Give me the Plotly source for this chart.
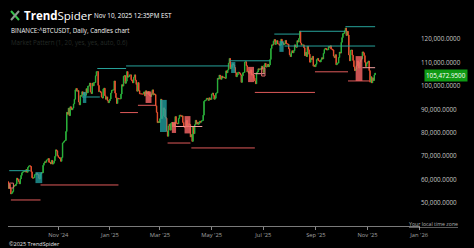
import pandas as pd
import plotly.graph_objects as go

# ---------------- data (daily closes, thousands USD) ----------------
first_open_k = 59.1
sep24 = [56.2, 58.0, 56.2, 53.9, 54.2, 54.9, 57.0, 57.6, 57.4, 58.1, 60.6, 60.0, 59.2, 58.2,
         60.3, 61.8, 62.9, 63.2, 63.4, 63.6, 63.3, 64.3, 63.1, 65.2, 65.8, 65.9, 65.6, 63.3]
oct24 = [60.8, 60.6, 60.8, 62.1, 62.1, 62.8, 62.2, 62.1, 60.6, 60.3, 62.4, 63.0, 62.9, 66.1,
         67.0, 67.6, 67.4, 68.4, 68.4, 69.0, 67.4, 67.4, 66.7, 68.2, 66.6, 67.0, 68.0, 69.9,
         72.7, 72.3, 70.2]
nov24 = [69.5, 69.4, 68.8, 67.8, 69.4, 75.6, 76.0, 76.5, 76.7, 80.5, 88.7, 87.9, 90.5, 87.3,
         91.1, 90.6, 89.8, 90.5, 92.3, 94.3, 98.3, 98.9, 97.7, 98.0, 93.1, 91.9, 95.9, 95.6,
         97.5, 96.4]
dec24 = [97.2, 95.9, 96.0, 98.8, 97.0, 99.9, 99.9, 101.2, 97.4, 96.7, 101.2, 100.0, 101.4,
         101.4, 104.3, 106.1, 106.1, 100.2, 97.5, 97.8, 97.2, 95.2, 94.8, 98.7, 99.0, 95.8,
         94.3, 95.3, 93.7, 92.8, 93.6]
jan25 = [94.4, 96.9, 98.1, 98.2, 98.3, 102.1, 96.9, 95.0, 92.5, 94.7, 94.5, 94.5, 94.5, 96.5,
         100.5, 99.9, 104.1, 104.4, 101.1, 102.0, 106.1, 103.7, 104.0, 104.7, 104.7, 102.6,
         102.1, 101.3, 103.7, 104.7, 102.4]
feb25 = [100.6, 97.7, 101.4, 98.0, 96.6, 96.6, 96.5, 96.5, 96.5, 97.4, 95.7, 97.9, 96.6, 97.5,
         97.6, 96.2, 95.8, 95.5, 96.6, 98.3, 96.1, 96.6, 96.3, 91.5, 88.7, 84.3, 84.7, 84.4]
mar25 = [86.0, 94.3, 86.1, 87.2, 90.6, 89.9, 86.7, 86.2, 80.7, 78.5, 82.9, 83.7, 81.1, 84.0,
         84.3, 82.6, 84.1, 82.7, 86.9, 84.2, 84.0, 83.8, 86.1, 87.5, 87.4, 86.9, 87.2, 84.4,
         82.6, 82.3, 82.5]
apr25 = [85.2, 82.5, 83.1, 83.8, 83.5, 78.2, 79.2, 76.3, 82.6, 79.6, 83.4, 85.3, 83.7, 84.5,
         83.6, 84.0, 84.9, 84.5, 85.1, 85.2, 87.5, 93.4, 93.7, 93.9, 94.7, 94.6, 93.8, 94.9,
         94.3, 94.2]
may25 = [96.5, 96.9, 95.9, 94.3, 94.7, 96.8, 97.0, 103.2, 102.9, 104.6, 104.1, 102.8, 104.2,
         103.5, 103.7, 103.5, 103.2, 106.4, 105.6, 106.8, 109.7, 111.7, 107.3, 107.8, 109.0,
         109.4, 108.9, 107.8, 105.6, 103.9, 104.6]
jun25 = [105.7, 105.8, 105.4, 104.7, 101.5, 104.3, 105.6, 105.7, 110.2, 110.3, 108.6, 105.9,
         106.1, 105.4, 105.6, 106.8, 104.6, 104.9, 104.6, 103.3, 102.1, 100.9, 105.6, 106.0,
         107.3, 106.9, 107.1, 107.3, 108.4, 107.1]
jul25 = [105.7, 108.8, 109.6, 108.0, 108.2, 109.2, 108.2, 108.9, 111.3, 115.9, 117.5, 117.4,
         119.1, 119.8, 117.7, 118.7, 119.3, 117.9, 117.9, 117.3, 117.4, 119.9, 118.8, 118.3,
         117.6, 117.9, 119.4, 118.0, 117.9, 117.8, 115.8]
aug25 = [113.3, 112.5, 114.2, 115.0, 114.1, 115.0, 117.5, 116.6, 116.5, 119.3, 118.7, 120.2,
         123.3, 118.3, 117.4, 117.5, 117.5, 116.3, 112.9, 114.3, 112.5, 116.9, 115.4, 113.5,
         110.1, 111.8, 111.3, 112.6, 108.4, 108.8, 108.2]
sep25 = [109.2, 111.2, 111.7, 110.7, 110.7, 110.2, 111.1, 112.0, 111.5, 113.9, 115.5, 116.0,
         115.9, 115.3, 115.4, 116.8, 116.5, 117.1, 115.7, 115.7, 115.3, 112.7, 112.0, 113.3,
         109.0, 109.7, 109.7, 112.1, 114.4, 114.0]
oct25 = [118.6, 120.6, 122.3, 122.4, 123.5, 124.7, 121.5, 123.3, 121.7, 113.2, 110.7, 115.2,
         115.3, 113.1, 110.8, 108.2, 106.5, 107.2, 108.6, 110.6, 108.5, 107.6, 110.1, 111.0,
         111.6, 114.5, 114.1, 112.9, 110.1, 108.3, 109.6]
nov25 = [110.1, 110.6, 106.5, 101.6, 103.9, 101.3, 103.4, 102.3, 104.7, 105.47295]

last_price = 105472.95

# resistance lines (teal)
res_start = ["2024-09-04", "2024-11-29", "2024-12-17", "2025-01-20", "2025-05-22",
             "2025-07-14", "2025-08-13", "2025-07-26", "2025-10-06"]
res_end = ["2024-09-29", "2024-12-20", "2025-01-20", "2025-05-22", "2025-07-09",
           "2025-08-13", "2025-10-06", "2025-11-10", "2025-11-10"]
res_level = [63800, 95250, 107400, 108500, 110700, 122100, 123300, 117000, 125250]

# support lines (red)
sup_start = ["2024-09-06", "2024-10-11", "2025-01-13", "2025-02-03", "2025-03-10",
             "2025-04-07", "2025-06-21", "2025-08-31", "2025-10-09"]
sup_end = ["2024-10-11", "2025-01-11", "2025-02-03", "2025-02-24", "2025-04-06",
           "2025-06-21", "2025-08-31", "2025-10-09", "2025-11-03"]
sup_level = [51300, 57700, 88600, 91700, 75600, 73500, 97200, 106000, 102100]

# thin mid lines (pink)
mid_start = ["2025-03-18", "2025-06-20", "2025-10-26"]
mid_end = ["2025-04-20", "2025-07-03", "2025-11-10"]
mid_level = [82650, 105200, 107750]

# zones
zone_start = ["2024-10-05", "2024-11-30", "2025-03-01", "2025-05-24", "2025-07-20",
              "2025-02-12", "2025-03-15", "2025-03-30", "2025-06-13", "2025-10-18",
              "2024-09-04", "2025-06-29"]
zone_end = ["2024-10-13", "2024-12-04", "2025-03-09", "2025-05-29", "2025-07-25",
            "2025-02-19", "2025-03-20", "2025-04-06", "2025-06-20", "2025-10-26",
            "2024-09-09", "2025-07-03"]
zone_top = [63200, 97400, 94000, 110200, 119100, 97600, 84600, 87100, 108100, 112700,
            58500, 107600]
zone_bottom = [58500, 92700, 80300, 105500, 114500, 92700, 79900, 79700, 101600, 102100,
               56400, 104200]
zone_kind = ["bull", "bull", "bull", "bull", "bull", "bear", "bear", "bear", "bear", "bear",
             "outline", "outline"]

y_ticks = [50000, 60000, 70000, 80000, 90000, 100000, 110000, 120000]
y_tick_text = ["50,000.0000", "60,000.0000", "70,000.0000", "80,000.0000", "90,000.0000",
               "100,000.0000", "110,000.0000", "120,000.0000"]
x_ticks = ["2024-11-01", "2025-01-01", "2025-03-01", "2025-05-01", "2025-07-01",
           "2025-09-01", "2025-11-01", "2026-01-01"]
x_tick_text = ["Nov '24", "Jan '25", "Mar '25", "May '25", "Jul '25", "Sep '25",
               "Nov '25", "Jan '26"]

# ---------------- build ----------------
closes_k = (sep24 + oct24 + nov24 + dec24 + jan25 + feb25 + mar25 + apr25 + may25 + jun25
            + jul25 + aug25 + sep25 + oct25 + nov25)
dates = pd.date_range("2024-09-03", periods=len(closes_k), freq="D")
closes = [c * 1000 for c in closes_k]
opens = [first_open_k * 1000] + closes[:-1]
highs = [max(o, c) for o, c in zip(opens, closes)]
lows = [min(o, c) for o, c in zip(opens, closes)]

W, H = 474, 248
ML, MR, MT, MB = 8, 54, 20, 22
PW, PH = W - ML - MR, H - MT - MB


def px(x):
    return (x - ML) / PW


def py(y):
    return (H - MB - y) / PH


GREEN = "#2bb33c"
RED = "#e8512f"
TEAL = "#27a39b"
SUPRED = "#df5a5a"

fig = go.Figure()
fig.add_trace(go.Candlestick(
    x=dates, open=opens, high=highs, low=lows, close=closes,
    increasing=dict(line=dict(color=GREEN, width=1), fillcolor=GREEN),
    decreasing=dict(line=dict(color=RED, width=1), fillcolor=RED),
    whiskerwidth=0, showlegend=False, hoverinfo="skip"))

shapes = []
for s, e, v in zip(res_start, res_end, res_level):
    shapes.append(dict(type="line", xref="x", yref="y", x0=s, x1=e, y0=v, y1=v,
                       line=dict(color=TEAL, width=1)))
for s, e, v in zip(sup_start, sup_end, sup_level):
    shapes.append(dict(type="line", xref="x", yref="y", x0=s, x1=e, y0=v, y1=v,
                       line=dict(color=SUPRED, width=1)))
for s, e, v in zip(mid_start, mid_end, mid_level):
    shapes.append(dict(type="line", xref="x", yref="y", x0=s, x1=e, y0=v, y1=v,
                       line=dict(color="#f3a0a0", width=1)))
for s, e, t, b, k in zip(zone_start, zone_end, zone_top, zone_bottom, zone_kind):
    if k == "bull":
        shapes.append(dict(type="rect", xref="x", yref="y", x0=s, x1=e, y0=b, y1=t,
                           fillcolor="rgba(32,160,160,0.78)", line=dict(width=0)))
    elif k == "bear":
        shapes.append(dict(type="rect", xref="x", yref="y", x0=s, x1=e, y0=b, y1=t,
                           fillcolor="rgba(245,100,100,0.82)", line=dict(width=0)))
    else:
        shapes.append(dict(type="rect", xref="x", yref="y", x0=s, x1=e, y0=b, y1=t,
                           fillcolor="rgba(0,0,0,0)", line=dict(color="#e06a6a", width=1)))

# logo mark
shapes.append(dict(type="line", xref="paper", yref="paper", x0=px(11), x1=px(19),
                   y0=py(11), y1=py(20), line=dict(color="#35c24a", width=2)))
shapes.append(dict(type="line", xref="paper", yref="paper", x0=px(19), x1=px(11),
                   y0=py(11), y1=py(20), line=dict(color="#8a9a8f", width=2)))

annotations = [
    dict(x=px(22), y=py(15.5), xref="paper", yref="paper", xanchor="left", yanchor="middle",
         text="<b>Trend</b>Spider", showarrow=False,
         font=dict(family="Open Sans", size=11.5, color="#ffffff")),
    dict(x=px(92), y=py(15.5), xref="paper", yref="paper", xanchor="left", yanchor="middle",
         text="Nov 10, 2025 12:35PM EST", showarrow=False,
         font=dict(family="Open Sans", size=6.3, color="#ffffff")),
    dict(x=px(9), y=py(31), xref="paper", yref="paper", xanchor="left", yanchor="middle",
         text="BINANCE:^BTCUSDT, Daily, Candles chart", showarrow=False,
         font=dict(family="Open Sans", size=6.2, color="#f2f2f2")),
    dict(x=px(9), y=py(43), xref="paper", yref="paper", xanchor="left", yanchor="middle",
         text="Market Pattern (1, 20, yes, yes, auto, 0.6)", showarrow=False,
         font=dict(family="Open Sans", size=6.2, color="#242a26")),
    dict(x=px(7), y=py(244), xref="paper", yref="paper", xanchor="left", yanchor="middle",
         text="©2025 TrendSpider", showarrow=False,
         font=dict(family="Open Sans", size=5.5, color="#e8e8e8")),
    dict(x=px(460), y=py(223.5), xref="paper", yref="paper", xanchor="right",
         yanchor="middle", text="<u>Your local time zone</u>", showarrow=False,
         font=dict(family="Open Sans", size=5.2, color="#b0b0b0")),
    dict(x=1, y=last_price, xref="paper", yref="y", xanchor="left", yanchor="middle",
         xshift=4, yshift=-2, text="105,472.9500", showarrow=False, bgcolor="#0f9a14",
         borderpad=1, font=dict(family="Open Sans", size=6.3, color="#ffffff")),
]

fig.update_layout(
    width=W, height=H, margin=dict(l=ML, r=MR, t=MT, b=MB, pad=0),
    paper_bgcolor="#000000", plot_bgcolor="#000000",
    showlegend=False, hovermode=False,
    shapes=shapes, annotations=annotations,
    xaxis=dict(type="date", range=["2024-09-02 14:00", "2026-01-02"],
               rangeslider=dict(visible=False), showgrid=False, zeroline=False,
               tickvals=x_ticks, ticktext=x_tick_text, ticks="outside", ticklen=3,
               tickcolor="#8a8a8a", showline=True, linecolor="#7a7a7a", linewidth=1,
               tickfont=dict(family="Open Sans", size=5.8, color="#a0a0a0")),
    yaxis=dict(side="right", range=[40190, 128110], showgrid=False, zeroline=False,
               tickvals=y_ticks, ticktext=y_tick_text, ticks="", showline=False,
               tickfont=dict(family="Open Sans", size=6.3, color="#c4c4c4")),
)

fig.write_html("out.html", config={"displayModeBar": False, "staticPlot": True})
